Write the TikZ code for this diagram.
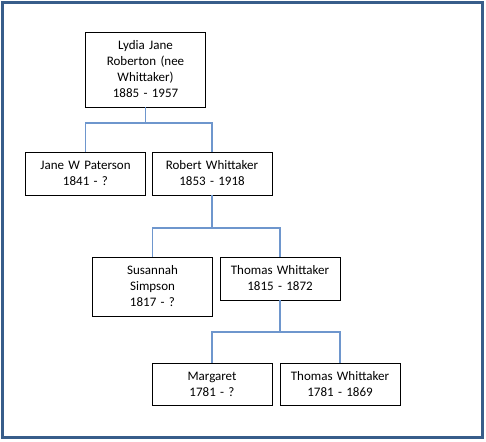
\documentclass[tikz,border=0pt]{standalone}
\usepackage{fontspec}
\setmainfont{Carlito}
\usepackage{tikz}
\definecolor{framecol}{RGB}{56,93,138}
\definecolor{linkcol}{RGB}{110,150,205}

\begin{document}
\begin{tikzpicture}[x=1pt,y=-1pt,
  person/.style={draw, line width=0.9pt, color=black, inner sep=0pt,
    text width=118pt, align=center, minimum width=120pt,
    minimum height=#1, font=\fontsize{13}{16}\selectfont},
  link/.style={draw=linkcol, line width=1.3pt}]

\useasboundingbox (0,0) rectangle (486,441);
\draw[framecol, line width=3pt] (2.5,2.5) rectangle (482.5,437.5);

\node[person=75pt] (lydia) at (145.5,69.5) {Lydia Jane\\Roberton (nee\\Whittaker)\\1885 - 1957};
\node[person=43pt] (jane) at (85.5,173.5) {Jane W Paterson\\1841 - ?};
\node[person=43pt] (robert) at (212,173.5) {Robert Whittaker\\1853 - 1918};
\node[person=59pt] (susannah) at (152.5,286.5) {Susannah\\Simpson\\1817 - ?};
\node[person=43pt] (thomas) at (280,278.5) {Thomas Whittaker\\1815 - 1872};
\node[person=42pt] (margaret) at (212,384) {Margaret\\1781 - ?};
\node[person=42pt] (thomaselder) at (340,384) {Thomas Whittaker\\1781 - 1869};

\coordinate (bus1) at (lydia.south |- 0,123);
\coordinate (bus2) at (robert.south |- 0,228);
\coordinate (bus3) at (thomas.south |- 0,332);

\draw[link] (lydia.south) -- (bus1) -| (jane.north);
\draw[link] (bus1) -| (robert.north);
\draw[link] (robert.south) -- (bus2) -| (susannah.north);
\draw[link] (bus2) -| (thomas.north);
\draw[link] (thomas.south) -- (bus3) -| (margaret.north);
\draw[link] (bus3) -| (thomaselder.north);
\end{tikzpicture}
\end{document}
